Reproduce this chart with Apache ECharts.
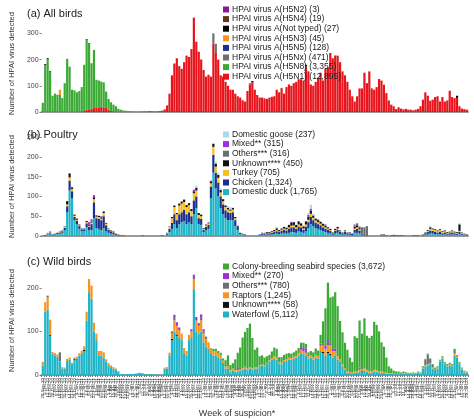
<!DOCTYPE html>
<html>
<head>
<meta charset="utf-8">
<script src="https://cdn.jsdelivr.net/npm/echarts@6/dist/echarts.min.js"></script>
<style>html,body{margin:0;padding:0;background:#fff}#chart{width:474px;height:420px}</style>
</head>
<body>
<div id="chart"></div>
<script>
// weekly categories (Monday of week of suspicion)
const firstWeek = new Date(Date.UTC(2020, 8, 28));
const nWeeks = 175;
const monthNames = ['Jan','Feb','Mar','Apr','May','Jun','Jul','Aug','Sep','Oct','Nov','Dec'];
const weeks = [];
for (let i = 0; i < nWeeks; i++) {
	const d = new Date(firstWeek.getTime() + i * 7 * 86400000);
	weeks.push(d.getUTCDate() + '-' + monthNames[d.getUTCMonth()] + '-' + String(d.getUTCFullYear()).slice(2));
}

// (a) all birds
const aH5N1 = [
	0,0,0,0,0,0,0,0,0,0, 0,0,0,0,0,0,0,5,8,10, 12,15,18,18,20,18,15,10,5,3, 2,0,0,0,0,0,0,0,0,0,
	0,0,0,0,3,2,1,2,3,5, 10,25,70,140,185,205,175,165,190,215, 210,240,360,268,230,200,160,135,142,135,
	260,225,200,140,135,115,100,85,85,70, 60,55,45,40,80,105,113,85,65,55, 55,52,50,55,58,60,85,75,90,70,
	95,105,100,110,115,125,125,120,172,155, 105,100,115,130,150,120,165,170,225,205, 215,215,190,155,140,115,85,60,40,60,
	90,90,150,110,155,90,85,95,126,120, 104,72,44,28,22,11,18,13,10,12, 8,9,6,9,12,22,47,75,62,43,
	47,57,60,40,57,40,44,81,57,53, 54,22,13,11,9
];
const aH5N8 = [
	35,180,202,152,62,70,66,65,53,110, 203,173,85,82,75,80,95,175,267,249, 174,222,105,102,96,95,63,40,32,25,
	20,12,9,6,5,4,3,2,1,0, 2,3,4,4
];
const aH5Nx = [[70, 40], [71, 35], [85, 5], [108, 3]];
const aH5N5 = [[18, 3], [19, 3]];
const aH5N3 = [[7, 20]];
const aNotTyped = [[1, 3], [2, 3], [3, 3], [86, 5], [108, 5], [170, 8]];
const aH5N4 = [[98, 2], [150, 1]];
const aH5N2 = [[120, 1]];

// (b) poultry
const bDuck = [
	0,1,4,6,2,4,5,6,8,15, 60,115,95,40,30,18,12,12,22,15, 15,45,20,18,15,20,12,8,6,4, 3,2,1,1,0,0,0,0,0,0,
	0,1,0,0,0,0,0,0,0,1, 0,3,10,18,30,20,30,35,38,30, 35,30,55,70,30,28,10,15,18,95, 160,120,100,70,55,45,40,40,40,25,
	15,5,4,2,0,0,0,1,0,2, 3,3,4,3,4,5,6,5,6,8, 6,8,10,10,8,12,10,8,12,20, 30,25,20,18,15,12,10,8,6,3,
	6,8,5,3,5,3,3,2,8,8, 6,3,1,0,0,0,0,0,0,2, 2,1,0,1,1,1,1,1,0,0, 0,0,1,1,1,0,2,3,5,6,
	6,5,4,5,3,4,3,3,4,3, 3,5,3,2,2
];
const bChicken = [
	0,1,2,3,2,2,3,3,4,6, 15,25,18,8,8,7,5,5,10,8, 15,40,25,25,25,30,15,8,6,4, 3,2,1,1,0,0,0,0,0,0,
	0,1,0,0,0,0,0,0,0,1, 0,3,8,15,25,20,25,25,28,25, 25,20,35,30,15,15,5,8,10,30, 45,40,35,30,25,20,20,18,20,15,
	10,3,2,2,0,0,0,0,0,2, 3,3,3,4,4,5,6,5,7,8, 8,10,12,12,10,12,12,8,12,15, 18,15,14,12,12,10,9,8,7,4,
	7,8,5,4,5,4,3,3,8,10, 8,2,1,0,0,0,0,0,0,2, 2,1,0,1,2,1,1,1,1,0, 0,0,1,1,1,0,2,4,5,8,
	7,6,5,6,4,5,3,4,5,4, 3,5,3,2,1
];
const bTurkey = [
	0,0,1,1,0,1,1,1,1,2, 5,8,6,3,3,2,1,1,3,3, 4,8,4,5,4,8,4,2,2,1, 1,1,1,0,0,0,0,0,0,0,
	0,0,0,0,0,0,0,0,0,0, 0,1,5,12,18,15,22,22,20,18, 18,13,18,15,8,7,3,4,4,8, 20,15,12,10,8,8,7,6,7,5,
	3,1,1,0,0,0,0,0,0,0, 1,1,1,1,2,2,3,2,3,3, 3,4,4,5,4,5,4,3,5,6, 8,6,5,5,4,4,3,3,2,1,
	2,3,2,1,2,1,1,1,3,4, 3,1,0,0,0,0,0,0,0,0, 0,0,0,0,0,0,0,0,0,0, 0,0,0,0,0,0,1,2,3,4,
	4,4,3,4,3,3,2,2,3,2, 2,3,2,1,1
];
const bUnknown = [
	0,0,0,1,0,0,0,1,1,1, 8,10,4,3,3,2,1,1,3,2, 2,5,3,3,3,4,2,1,1,1, 0,0,0,0,0,0,0,0,0,0,
	0,0,0,0,0,0,0,0,0,0, 0,1,1,3,4,3,5,5,6,5, 5,5,5,7,5,4,2,2,2,5, 8,8,7,6,5,4,4,3,4,3,
	0,0,0,0,0,0,0,0,0,0, 1,1,2,2,2,3,4,3,3,4, 4,6,7,8,6,8,6,4,8,8, 8,6,5,5,5,5,4,3,3,1,
	3,4,2,1,2,1,2,1,4,5, 3,1,0,0,0,0,0,0,0,0, 0,0,0,0,0,0,0,0,0,0, 0,0,0,0,0,0,0,1,2,3,
	2,2,2,2,2,2,2,2,2,2, 2,15,1,1,1
];
const bOthers = [[96, 2], [107, 3], [113, 2], [128, 3], [129, 5], [130, 4], [131, 15], [132, 20], [133, 25], [171, 3]];
const bMixed = [[1, 1], [2, 1], [19, 7], [20, 6], [21, 5], [24, 3], [29, 2], [62, 4], [69, 2], [102, 3], [109, 4], [110, 5], [116, 3], [128, 3], [159, 2]];
const bGoose = [[63, 5], [71, 5], [72, 6], [73, 4], [76, 5], [77, 6], [109, 5], [110, 10], [111, 4], [159, 3]];

// (c) wild birds
const cWaterfowl = [
	22,145,150,90,48,45,42,30,15,15, 32,35,25,35,38,45,50,55,125,190, 175,100,80,45,45,40,30,22,18,15, 12,8,2,2,2,2,2,2,3,4,
	5,4,2,1,2,1,2,0,0,0, 15,15,45,80,100,90,85,80,50,45, 80,85,195,100,95,100,75,65,60,50, 45,45,40,38,28,15,15,8,10,8,
	8,10,12,15,12,15,12,15,15,20, 22,20,25,30,35,38,35,25,25,30, 32,35,35,38,40,45,50,48,45,38, 40,35,40,38,55,50,45,50,45,40,
	45,35,30,20,12,5,5,3,5,5, 8,8,10,8,5,5,8,8,6,5, 5,3,3,3,2,2,2,2,3,2, 2,2,3,2,5,3,15,20,22,25,
	15,12,15,30,38,25,20,22,20,45, 40,25,12,6,5
];
const cRaptors = [
	8,22,28,35,5,5,5,2,3,2, 5,5,3,3,4,5,6,8,20,30, 30,20,15,10,10,12,6,5,4,3, 3,1,0,0,0,0,0,0,0,0,
	0,0,0,0,0,0,0,0,0,0, 2,3,6,12,25,20,18,15,12,10, 12,15,25,25,18,25,20,18,15,12, 10,10,10,8,5,4,5,3,5,3,
	3,3,4,4,3,3,3,3,3,3, 3,3,3,4,4,5,5,4,4,4, 4,5,4,4,4,5,8,6,6,5, 5,5,6,6,12,15,15,15,20,15,
	10,8,6,5,4,3,2,2,4,3, 4,3,5,4,3,3,4,3,3,3, 2,2,1,1,1,1,1,1,1,1, 1,1,1,1,1,1,2,3,3,2,
	3,2,2,3,3,3,2,3,2,5, 4,3,3,2,1
];
const cSeabird = [
	0,0,0,0,0,0,0,0,0,0, 0,0,0,0,0,0,0,0,0,0, 0,0,0,0,0,0,0,0,0,0, 0,0,0,0,0,0,0,0,0,0,
	0,0,0,0,0,0,0,0,0,0, 0,0,0,0,0,0,0,0,0,0, 0,0,0,0,0,0,0,0,0,0, 5,5,5,5,5,15,25,12,12,25,
	35,45,70,80,90,100,70,40,45,20, 20,17,15,12,15,20,20,12,12,12, 10,10,10,10,12,12,10,12,10,5, 10,12,15,12,20,50,85,130,105,120,
	130,115,88,73,58,50,33,25,80,77, 108,82,110,78,77,82,110,104,91,67, 58,35,16,11,7,5,5,3,4,3, 2,2,2,2,2,2,3,2,2,1,
	2,3,3,2,2,2,3,3,3,5, 2,2,2,2,2
];
const cOthers = [[2, 4], [7, 20], [53, 5], [54, 8], [62, 5], [65, 8], [66, 5], [67, 5], [80, 5], [81, 5], [84, 3], [100, 3], [108, 5], [109, 4], [114, 5], [115, 5], [117, 8], [130, 5], [132, 5], [157, 12], [158, 22], [159, 10], [160, 5], [169, 5]];
const cMixed = [[54, 5], [55, 8], [56, 6], [61, 5], [62, 5], [63, 8], [64, 6], [65, 6], [66, 5], [106, 6], [107, 8], [108, 5], [116, 8], [117, 6], [118, 5], [119, 5], [120, 5]];
const cUnknown = [[3, 2], [13, 2], [17, 3], [53, 3], [55, 3], [115, 3], [117, 3], [118, 3], [131, 2]];

// expand a short list or [week, count] pairs to one value per week
function full(list) {
	const out = new Array(nWeeks).fill(0);
	if (list.length && Array.isArray(list[0])) {
		list.forEach(p => { out[p[0]] = p[1]; });
	} else {
		list.forEach((v, i) => { out[i] = v; });
	}
	return out;
}

const chart = echarts.init(document.getElementById('chart'));
const font = 'Liberation Sans, Arial, sans-serif';

const panels = [
	{title: '(a) All birds', top: 15, height: 97, max: 370, interval: 100, showMax: false, titleTop: 3, legendTop: 0, series: [
		['HPAI virus A(H5N1) (12,895)', aH5N1, '#e8141b'],
		['HPAI virus A(H5N8) (3,355)', aH5N8, '#3aaa35'],
		['HPAI virus A(H5Nx) (471)', aH5Nx, '#6d6e70'],
		['HPAI virus A(H5N5) (128)', aH5N5, '#1a2f8f'],
		['HPAI virus A(H5N3) (45)', aH5N3, '#f7941d'],
		['HPAI virus A(Not typed) (27)', aNotTyped, '#000000'],
		['HPAI virus A(H5N4) (19)', aH5N4, '#5a3a13'],
		['HPAI virus A(H5N2) (3)', aH5N2, '#8b1a8b']
	]},
	{title: '(b) Poultry', top: 137, height: 99, max: 250, interval: 50, showMax: true, titleTop: 124, legendTop: 125, series: [
		['Domestic duck (1,765)', bDuck, '#1fb5c9'],
		['Chicken (1,324)', bChicken, '#1c2f8f'],
		['Turkey (705)', bTurkey, '#f9bf1e'],
		['Unknown**** (450)', bUnknown, '#111111'],
		['Others*** (316)', bOthers, '#6d6e70'],
		['Mixed** (315)', bMixed, '#9b30e0'],
		['Domestic goose (237)', bGoose, '#a8dbe8']
	]},
	{title: '(c) Wild birds', top: 266, height: 109, max: 250, interval: 100, showMax: false, titleTop: 251, legendTop: 257, series: [
		['Waterfowl (5,112)', cWaterfowl, '#1fb5c9'],
		['Unknown**** (58)', cUnknown, '#111111'],
		['Raptors (1,245)', cRaptors, '#f7941d'],
		['Others*** (780)', cOthers, '#6d6e70'],
		['Mixed** (270)', cMixed, '#9b30e0'],
		['Colony-breeding seabird species (3,672)', cSeabird, '#3aaa35']
	]}
];

const option = {
	backgroundColor: '#fff',
	animation: false,
	textStyle: {fontFamily: font},
	title: [],
	legend: [],
	grid: [],
	xAxis: [],
	yAxis: [],
	series: [],
	graphic: [{
		type: 'text', left: 'center', top: 409,
		style: {text: 'Week of suspicion*', font: '9px ' + font, fill: '#333'}
	}]
};

panels.forEach((p, k) => {
	option.title.push({text: p.title, left: 22, top: p.titleTop, textStyle: {fontSize: 11, fontWeight: 'normal', color: '#222', fontFamily: font}});
	option.grid.push({left: 28, right: 6, top: p.top, height: p.height});
	option.xAxis.push({
		type: 'category', gridIndex: k, data: weeks,
		axisLine: {lineStyle: {color: '#9a9a9a', width: 2}},
		axisTick: {show: k === 2, length: 2, lineStyle: {color: '#777'}},
		axisLabel: k === 2 ? {show: true, rotate: 90, interval: 0, fontSize: 4.4, color: '#333', margin: 3} : {show: false}
	});
	option.yAxis.push({
		type: 'value', gridIndex: k, min: 0, max: p.max, interval: p.interval,
		name: 'Number of HPAI virus detected', nameLocation: 'middle', nameGap: 18,
		nameTextStyle: {fontSize: 7.5, color: '#333'},
		axisLine: {show: false}, axisTick: {show: true, length: 2, lineStyle: {color: '#777'}},
		splitLine: {show: false},
		axisLabel: {fontSize: 7, color: '#444', margin: 3, showMaxLabel: p.showMax}
	});
	const names = [];
	p.series.forEach(s => {
		names.push(s[0]);
		option.series.push({
			name: s[0], type: 'bar', stack: 'p' + k, xAxisIndex: k, yAxisIndex: k,
			data: full(s[1]), barCategoryGap: '10%',
			itemStyle: {color: s[2]}
		});
	});
	option.legend.push({
		data: names.slice().reverse(), orient: 'vertical', left: 218, top: p.legendTop,
		itemWidth: 6, itemHeight: 6, itemGap: 0.6, icon: 'rect',
		textStyle: {fontSize: 8.5, lineHeight: 6, color: '#222', padding: [0, 0, 0, -2]}
	});
});

chart.setOption(option);
</script>
</body>
</html>
